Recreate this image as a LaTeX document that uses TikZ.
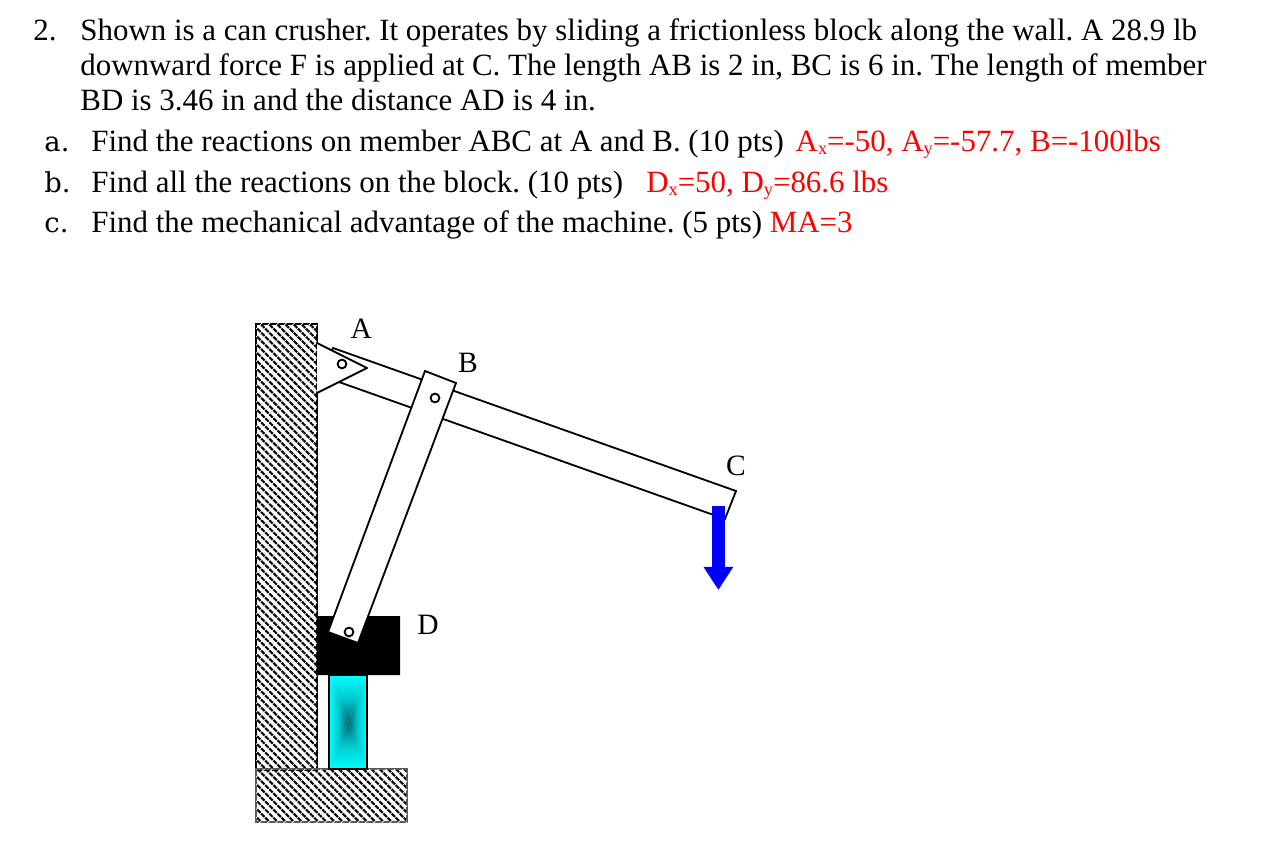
\documentclass[tikz,border=0pt]{standalone}
\usepackage{fontspec}
\setmainfont{Liberation Serif}
\newfontfamily\itemfont{DejaVu Serif}
\usepackage{tkz-euclide}
\usetikzlibrary{patterns.meta,arrows.meta}
\frenchspacing
\definecolor{answerred}{RGB}{255,0,0}
\definecolor{loadblue}{RGB}{0,0,255}
\definecolor{cancyan}{RGB}{0,255,255}
\definecolor{candark}{RGB}{0,105,115}
\tikzset{
  textline/.style={anchor=base west, inner sep=0pt, font=\fontsize{22}{25}\selectfont},
  itemlabel/.style={anchor=base west, inner sep=0pt, font=\itemfont\fontsize{19.5}{25}\selectfont},
  pointlabel/.style={font=\fontsize{21}{25}\selectfont},
  member/.style={line width=1.3pt, line join=miter},
  hatched/.style={pattern={Lines[angle=-45,distance=4.1pt,line width=1.5pt]}},
  crossed/.style={pattern={Lines[angle=45,distance=4.1pt,line width=.5pt]}, pattern color=white},
}
\newcommand{\ans}[1]{\textcolor{answerred}{#1}}
\newcommand{\low}[1]{\raisebox{-1.5pt}{\fontsize{13}{13}\selectfont #1}}
\begin{document}
\begin{tikzpicture}[semithick]
  \useasboundingbox (0,0) rectangle (31.6,21.35);

  \node[textline] (qnum) at (.825,20.33) {2.};
  \node[textline] (qone) at (2,20.33) {Shown is a can crusher. It operates by sliding a frictionless block along the wall. A 28.9 lb};
  \node[textline] (qtwo) at (2,19.45) {downward force F is applied at C. The length AB is 2 in, BC is 6 in. The length of member};
  \node[textline] (qthree) at (2,18.575) {BD is 3.46 in and the distance AD is 4 in.};
  \node[itemlabel] (ia) at (1.1,17.55) {a.};
  \node[itemlabel] (ib) at (1.1,16.525) {b.};
  \node[itemlabel] (ic) at (1.1,15.525) {c.};
  \node[textline] (ta) at (2.275,17.55) {Find the reactions on member ABC at A and B. (10 pts)\ \hspace{3pt}\ans{A\low{x}=-50, A\low{y}=-57.7, B=-100lbs}};
  \node[textline] (tb) at (2.275,16.525) {Find all the reactions on the block. (10 pts)\ \hspace{11pt}\ans{D\low{x}=50, D\low{y}=86.6 lbs}};
  \node[textline] (tc) at (2.275,15.525) {Find the mechanical advantage of the machine. (5 pts) \ans{MA=3}};

  \tkzDefPoints{6.4/13.25/W1, 7.925/13.25/W2, 7.925/2.1/W3, 6.4/2.1/W4}
  \tkzDefPoints{6.4/2.125/G1, 10.175/2.125/G2, 10.175/.8/G3, 6.4/.8/G4}
  \tkzDefPoints{7.925/5.95/K1, 10/5.95/K2, 10/4.475/K3, 7.925/4.475/K4}
  \tkzDefPoints{8.225/4.475/S1, 9.175/4.475/S2, 9.175/2.125/S3, 8.225/2.125/S4, 8.7/3.3/S}
  \tkzDefPoints{7.925/12.775/T1, 9.175/12.15/T2, 7.925/11.525/T3}
  \tkzDefPoints{8.325/12.65/P1, 18.4/9.075/P2, 18.125/8.375/P3, 8.05/11.95/P4}
  \tkzDefPoints{10.625/12.075/Q1, 11.4/11.775/Q2, 8.95/5.275/Q3, 8.2/5.55/Q4}
  \tkzDefPoints{8.55/12.25/A, 10.875/11.4/B, 8.725/5.55/D}
  \tkzDefPoints{17.96/8.7/F1, 17.96/6.6/F2}

  % wall and floor
  \tkzDrawPolygon[member, hatched](W1,W2,W3,W4)
  \fill[crossed] (W1) rectangle (W3);
  \tkzDrawPolygon[member, hatched, draw=black!65](G1,G2,G3,G4)
  \fill[crossed] (G1) rectangle (G3);

  % can, darker towards the middle
  \begin{scope}
    \clip (S1) -- (S2) -- (S) -- cycle;
    \shade[top color=cancyan, bottom color=candark, middle color=cancyan!65!candark] (S1) rectangle (9.175,3.3);
  \end{scope}
  \begin{scope}
    \clip (S3) -- (S4) -- (S) -- cycle;
    \shade[top color=candark, bottom color=cancyan, middle color=cancyan!65!candark] (8.225,3.3) rectangle (S3);
  \end{scope}
  \begin{scope}
    \clip (S1) -- (S4) -- (S) -- cycle;
    \shade[left color=cancyan, right color=candark, middle color=cancyan!65!candark] (S4) rectangle (8.7,4.475);
  \end{scope}
  \begin{scope}
    \clip (S2) -- (S3) -- (S) -- cycle;
    \shade[left color=candark, right color=cancyan, middle color=cancyan!65!candark] (8.7,2.125) rectangle (S2);
  \end{scope}
  \tkzDrawPolygon[member](S1,S2,S3,S4)

  % block
  \tkzFillPolygon[color=black](K1,K2,K3,K4)

  % lever ABC, pivot bracket and link BD
  \tkzFillPolygon[color=white](P1,P2,P3,P4)
  \tkzDrawPolygon[member](P1,P2,P3,P4)
  \tkzFillPolygon[color=white](T1,T2,T3)
  \tkzDrawSegments[member](T1,T2 T2,T3)
  \tkzFillPolygon[color=white](Q1,Q2,Q3,Q4)
  \tkzDrawPolygon[member](Q1,Q2,Q3,Q4)

  \draw[member] (A) circle (.11);
  \draw[member] (B) circle (.11);
  \draw[member] (D) circle (.11);

  \draw[loadblue, line width=.325cm, -{Triangle[length=.575cm,width=.7cm]}] (F1) -- (F2);

  \node[pointlabel] (la) at (9.03,13.12) {A};
  \node[pointlabel] (lb) at (11.7,12.27) {B};
  \node[pointlabel] (lc) at (18.4,9.7) {C};
  \node[pointlabel] (ld) at (10.7,5.72) {D};
\end{tikzpicture}
\end{document}
